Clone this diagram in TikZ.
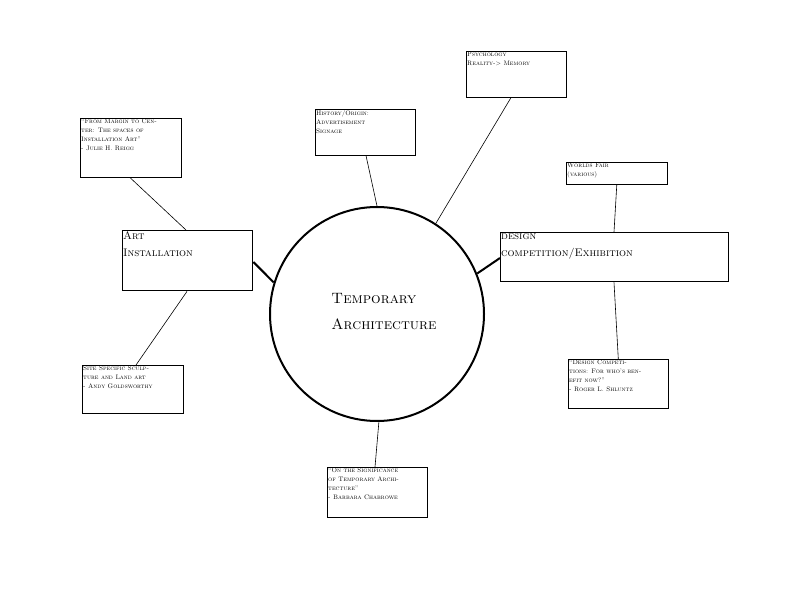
\documentclass[tikz,border=0pt]{standalone}
\usetikzlibrary{calc}
\begin{document}
\begin{tikzpicture}[x=1pt,y=-1pt,
  box/.style={draw,line width=0.6pt,anchor=north west,inner sep=0pt},
  bigbox/.style={draw,line width=1.4pt,anchor=north west,inner sep=0pt},
  txt/.style={anchor=north west,align=left,inner sep=1pt,font=\fontsize{6.5}{9}\selectfont\scshape},
  bigtxt/.style={anchor=north west,align=left,inner sep=1pt,font=\fontsize{11}{17}\selectfont\scshape},
  thin/.style={line width=0.6pt},
  thick2/.style={line width=2pt}]
\useasboundingbox (0,0) rectangle (792,612);
\node[draw,circle,line width=2pt,minimum size=214pt,inner sep=0pt] (c) at (377,314) {};
\node[align=left,font=\fontsize{15}{26}\selectfont\scshape] (ct) at (384,312) {Temporary\\Architecture};

\node[box,minimum width=101pt,minimum height=59pt] (julie) at (80,118) {};
\node[txt] (juliet) at (julie.north west) {``From Margin to Cen-\\ter: The spaces of\\Installation Art''\\- Julie H. Reigg};
\node[box,minimum width=100pt,minimum height=46pt] (hist) at (315,109) {};
\node[txt] (histt) at (hist.north west) {History/Origin:\\Advertisement\\Signage};
\node[box,minimum width=100pt,minimum height=46pt] (psy) at (466,51) {};
\node[txt] (psyt) at (psy.north west) {Psychology\\Reality-> Memory};
\node[box,minimum width=101pt,minimum height=22pt] (wf) at (566,162) {};
\node[txt] (wft) at (wf.north west) {Worlds Fair\\(various)};
\node[bigbox,minimum width=130pt,minimum height=60pt] (art) at (122,230) {};
\node[bigtxt] (artt) at (art.north west) {Art\\Installation};
\node[bigbox,minimum width=228pt,minimum height=49pt] (des) at (500,232) {};
\node[bigtxt] (dest) at (des.north west) {design\\competition/Exhibition};
\node[box,minimum width=101pt,minimum height=48pt] (site) at (82,365) {};
\node[txt] (sitet) at (site.north west) {Site Specific Sculp-\\ture and Land art\\- Andy Goldsworthy};
\node[box,minimum width=100pt,minimum height=49pt] (dc) at (568,359) {};
\node[txt] (dct) at (dc.north west) {``Design Competi-\\tions: For who's ben-\\efit now?''\\- Roger L. Shluntz};
\node[box,minimum width=100pt,minimum height=50pt] (bar) at (327,467) {};
\node[txt] (bart) at (bar.north west) {``On the Significance\\of Temporary Archi-\\tecture''\\- Barbara Chabrowe};

\draw[thin] ($(julie.south west)+(50,0)$) -- ($(art.north west)+(64,0)$);
\draw[thin] ($(hist.south west)+(51,0)$) -- (c.north);
\draw[thin] ($(psy.south west)+(45,0)$) -- (c.57);
\draw[thin] (wf.south) -- ($(des.north west)+(114,0)$);
\draw[thin] ($(art.south west)+(65,0)$) -- ($(site.north west)+(54,0)$);
\draw[thin] ($(des.south west)+(114,0)$) -- (dc.north);
\draw[thin] (c.-89) -- ($(bar.north west)+(48,0)$);
\draw[thick2] ($(art.north east)+(0,32)$) -- (c.163);
\draw[thick2] ($(des.north west)+(0,26)$) -- (c.22);
\end{tikzpicture}
\end{document}
